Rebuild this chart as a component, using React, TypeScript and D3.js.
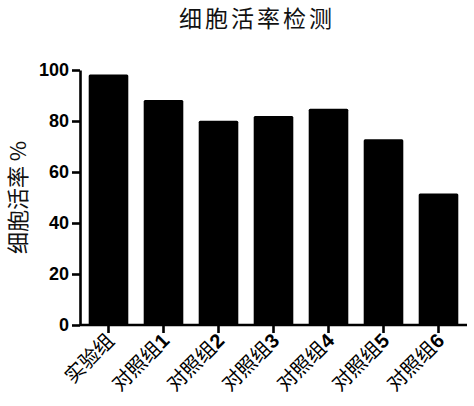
import { useRef, useEffect } from "react"
import * as d3 from "d3"

const title = "细胞活率检测"
const yLabel = "细胞活率 %"
const groups = ["实验组", "对照组1", "对照组2", "对照组3", "对照组4", "对照组5", "对照组6"]
const viability = [98.2, 88.2, 80.1, 82.0, 84.8, 72.8, 51.6]
const yTicks = [0, 20, 40, 60, 80, 100]

const W = 474, H = 406
const M = { left: 80, right: 7, top: 70, bottom: 81 }
const CJK = "'Noto Sans CJK SC', sans-serif"
const NUM = "'Liberation Sans', Arial, sans-serif"

export default function App() {
  const ref = useRef<SVGSVGElement>(null)
  useEffect(() => {
    if (!ref.current) return
    const s = d3.select(ref.current)
    s.selectAll("*").remove()
    const x = d3.scaleBand().domain(groups).range([M.left + 1, W - M.right - 1]).paddingInner(0.28).paddingOuter(0.14)
    const y = d3.scaleLinear().domain([0, 100]).range([H - M.bottom, M.top])

    s.append("g").selectAll("rect").data(viability).join("rect")
      .attr("x", (_, i) => x(groups[i])!)
      .attr("y", d => y(d))
      .attr("width", x.bandwidth())
      .attr("height", d => y(0) - y(d))
      .attr("rx", 1.5)
      .attr("fill", "#000")

    const ya = s.append("g").attr("transform", `translate(${M.left},0)`)
      .call(d3.axisLeft(y).tickValues(yTicks).tickSize(8).tickPadding(3).tickSizeOuter(0))
    ya.select(".domain").attr("stroke-width", 2.6)
    ya.selectAll(".tick line").attr("stroke-width", 2.6)
    ya.selectAll(".tick text").attr("font-family", NUM).attr("font-weight", "bold").attr("font-size", 18).attr("fill", "#000")

    const xa = s.append("g").attr("transform", `translate(0,${y(0)})`)
      .call(d3.axisBottom(x).tickSize(8).tickSizeOuter(0))
    xa.select(".domain").attr("stroke-width", 2.6).attr("d", `M${M.left},0H${W - M.right}`)
    xa.selectAll(".tick line").attr("stroke-width", 2.6)
    xa.selectAll(".tick text").remove()
    xa.selectAll(".tick").append("text")
      .attr("transform", "translate(7,17) rotate(-45)")
      .attr("text-anchor", "end")
      .attr("fill", "#000")
      .attr("font-size", 20)
      .each(function (d) {
        const t = d3.select(this)
        const str = d as string
        const m = str.match(/^(\D+)(\d*)$/)
        t.append("tspan").attr("font-family", CJK).text(m ? m[1] : str)
        if (m && m[2]) t.append("tspan").attr("font-family", NUM).attr("font-weight", "bold").text(m[2])
      })

    s.append("text").attr("x", 257).attr("y", 27).attr("text-anchor", "middle")
      .attr("font-family", CJK).attr("font-size", 23).attr("letter-spacing", 3).attr("fill", "#111").text(title)

    s.append("text").attr("transform", `translate(26,${(M.top + H - M.bottom) / 2}) rotate(-90)`)
      .attr("text-anchor", "middle").attr("font-family", CJK).attr("font-size", 22).attr("fill", "#111").text(yLabel)
  }, [])
  return (
    <div style={{ position: "absolute", left: 0, top: 0, background: "#fff" }}>
      <svg ref={ref} width={W} height={H} style={{ display: "block" }} />
    </div>
  )
}
